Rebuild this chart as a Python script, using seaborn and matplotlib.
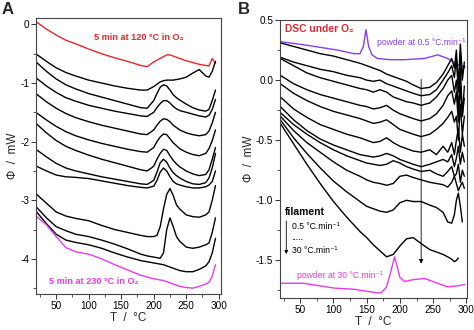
import numpy as np
import matplotlib
matplotlib.use("Agg")
import matplotlib.pyplot as plt
import seaborn as sns
from matplotlib.ticker import MultipleLocator

sns.set_theme(style="ticks")
plt.rcParams['font.family'] = ['Liberation Sans', 'DejaVu Sans']

nan = np.nan
# ---------------- Panel A data ----------------
T_A = [20, 35, 50, 65, 80, 100, 120, 140, 160, 180, 190, 200, 205, 210, 215, 220,
       225, 230, 235, 240, 250, 260, 270, 280, 285, 290, 295]
A_red = [0.04, -0.08, -0.18, -0.27, -0.33, -0.42, -0.50, -0.57, -0.63, -0.70, -0.72, -0.64, -0.61,
         -0.58, -0.55, -0.52, -0.52, -0.54, -0.56, -0.58, -0.62, -0.65, -0.68, -0.70, -0.71, -0.58, -0.66]
A1 = [-0.51, -0.63, -0.74, -0.82, -0.88, -0.95, -1.00, -1.05, -1.09, -1.12, -1.12, -1.06, -1.02,
      -0.98, -0.96, -0.95, -0.95, -0.95, -0.94, -0.93, -0.90, -0.83, -0.77, -0.88, -0.90, -0.80, -0.63]
A2 = [-0.65, -0.80, -0.93, -1.03, -1.10, -1.18, -1.24, -1.30, -1.36, -1.42, -1.43, -1.30, -1.18,
      -1.07, -1.03, -1.05, -1.12, -1.20, -1.25, -1.29, -1.36, -1.42, -1.46, -1.48, -1.45, -1.30, -1.12]
A3 = [-0.92, -1.05, -1.16, -1.25, -1.31, -1.38, -1.43, -1.48, -1.52, -1.56, -1.57, -1.50, -1.42,
      -1.35, -1.30, -1.30, -1.34, -1.40, -1.44, -1.47, -1.50, -1.53, -1.56, -1.58, -1.55, -1.45, -1.28]
A4 = [-1.19, -1.32, -1.43, -1.52, -1.59, -1.66, -1.72, -1.77, -1.82, -1.87, -1.88, -1.80, -1.72,
      -1.65, -1.61, -1.62, -1.66, -1.72, -1.76, -1.80, -1.85, -1.88, -1.90, -1.88, -1.82, -1.68, -1.50]
A5 = [-1.51, -1.63, -1.74, -1.83, -1.90, -1.97, -2.03, -2.08, -2.13, -2.17, -2.18, -2.10, -2.00,
      -1.92, -1.87, -1.88, -1.95, -2.02, -2.07, -2.12, -2.18, -2.22, -2.24, -2.20, -2.12, -1.98, -1.80]
A6 = [-1.70, -1.85, -1.98, -2.08, -2.15, -2.23, -2.30, -2.36, -2.42, -2.48, -2.50, -2.42, -2.30,
      -2.20, -2.13, -2.15, -2.24, -2.32, -2.38, -2.43, -2.50, -2.55, -2.58, -2.56, -2.48, -2.30, -2.10]
A7 = [-2.14, -2.26, -2.37, -2.45, -2.50, -2.55, -2.60, -2.64, -2.68, -2.72, -2.73, -2.66, -2.52,
      -2.36, -2.30, -2.35, -2.45, -2.53, -2.58, -2.62, -2.68, -2.72, -2.73, -2.70, -2.62, -2.45, -2.20]
A8 = [-2.42, -2.50, -2.57, -2.60, -2.61, -2.63, -2.67, -2.71, -2.75, -2.78, -2.79, -2.76, -2.66,
      -2.52, -2.45, -2.50, -2.60, -2.68, -2.72, -2.74, -2.77, -2.79, -2.79, -2.77, -2.74, -2.68, -2.50]
A9 = [-2.90, -3.05, -3.20, -3.27, -3.31, -3.35, -3.43, -3.50, -3.55, -3.60, -3.62, -3.62, -3.60,
      -3.45, -3.15, -2.90, -2.80, -2.92, -3.08, -3.15, -3.25, -3.28, -3.29, -3.25, -3.20, -3.00, -2.75]
A10 = [-3.12, -3.30, -3.45, -3.52, -3.58, -3.62, -3.68, -3.75, -3.83, -3.92, -3.95, -3.97, -3.98,
       -3.99, -3.90, -3.50, -3.30, -3.45, -3.62, -3.70, -3.80, -3.82, -3.80, -3.76, -3.73, -3.55, -3.30]
A11 = [-3.20, -3.40, -3.58, -3.68, -3.72, -3.76, -3.82, -3.90, -3.97, -4.03, -4.05, -4.07, -4.08,
       -4.09, -4.10, -4.12, -4.14, -4.16, -4.18, -4.20, -4.22, -4.22, -4.18, -4.12, -4.05, -3.90, -3.65]
A_mag = [-3.28, -3.42, -3.62, -3.81, -3.88, -3.92, -4.00, -4.10, -4.19, -4.28, -4.31, -4.34, -4.35,
         -4.36, -4.37, -4.39, -4.41, -4.43, -4.45, -4.47, -4.49, -4.50, -4.47, -4.43, -4.40, -4.30, -4.10]
A_black = [A1, A2, A3, A4, A5, A6, A7, A8, A9, A10, A11]

# ---------------- Panel B data ----------------
T_B = [20, 40, 60, 80, 100, 120, 140, 150, 160, 170, 180, 190, 200, 210, 220, 232, 245, 255,
       265, 272, 278, 282, 285, 288, 291, 294, 297]
B1 = [0.31, 0.28, 0.25, 0.22, 0.20, 0.17, 0.14, 0.12, 0.10, 0.08, 0.05, 0.03, 0.01, -0.01, -0.04,
      -0.07, -0.06, -0.02, 0.05, 0.12, 0.18, 0.10, 0.25, -0.05, 0.30, 0.05, 0.12]
B2 = [0.19, 0.15, 0.12, 0.09, 0.07, 0.04, 0.02, 0.00, -0.01, 0.00, -0.03, -0.05, -0.07, -0.09, -0.11,
      -0.13, -0.12, -0.08, 0.00, 0.06, 0.12, 0.02, 0.18, -0.10, 0.22, 0.00, 0.15]
B3 = [0.18, 0.12, 0.06, 0.02, -0.01, -0.04, -0.07, -0.08, -0.10, -0.08, -0.10, -0.14, -0.16, -0.18,
      -0.19, -0.21, -0.19, -0.14, -0.07, 0.00, 0.04, -0.10, 0.00, -0.25, 0.10, -0.30, -0.05]
B4 = [0.04, -0.03, -0.08, -0.12, -0.15, -0.18, -0.21, -0.22, -0.24, -0.23, -0.21, -0.25, -0.28,
      -0.30, -0.32, -0.34, -0.32, -0.28, -0.21, -0.13, -0.09, -0.20, -0.10, -0.35, -0.05, -0.30, -0.15]
B5 = [-0.03, -0.11, -0.17, -0.22, -0.26, -0.29, -0.32, -0.34, -0.36, -0.35, -0.33, -0.37, -0.41,
      -0.43, -0.45, -0.47, -0.45, -0.41, -0.36, -0.31, -0.26, -0.35, -0.30, -0.50, -0.20, -0.45, -0.30]
B6 = [-0.14, -0.24, -0.31, -0.37, -0.41, -0.45, -0.48, -0.50, -0.52, -0.51, -0.48, -0.52, -0.55,
      -0.57, -0.59, -0.60, -0.58, -0.62, -0.55, -0.60, -0.52, -0.62, -0.50, -0.40, -0.60, -0.45, -0.55]
B7 = [-0.22, -0.33, -0.42, -0.49, -0.54, -0.58, -0.62, -0.63, -0.64, -0.63, -0.61, -0.63, -0.66,
      -0.68, -0.70, -0.72, -0.70, -0.68, -0.66, -0.68, -0.62, -0.72, -0.65, -0.55, -0.70, -0.60, -0.68]
B8 = [-0.27, -0.37, -0.45, -0.52, -0.58, -0.63, -0.67, -0.69, -0.70, -0.71, -0.70, -0.67, -0.69,
      -0.72, -0.74, -0.76, -0.75, -0.78, -0.80, -0.76, -0.72, -0.80, -0.78, -0.70, -0.85, -0.75, -0.80]
B9 = [-0.30, -0.42, -0.52, -0.60, -0.68, -0.75, -0.80, -0.83, -0.85, -0.86, -0.875, -0.86, -0.80,
      -0.79, -0.81, -0.83, -0.85, -0.86, -0.87, -0.89, -0.85, -0.80, -0.86, -0.92, -0.88, -0.85, -0.90]
B10 = [-0.33, -0.48, -0.61, -0.73, -0.84, -0.93, -1.01, -1.05, -1.07, -1.09, -1.10, -1.08, -1.02,
       -1.00, -1.01, -1.01, -1.04, -1.06, -1.10, -1.18, -1.19, -1.12, -1.00, -0.94, -1.05, -1.18, nan]
B11 = [-0.36, -0.53, -0.70, -0.86, -1.01, -1.14, -1.26, -1.31, -1.37, -1.42, -1.47, -1.45, -1.38,
       -1.32, -1.31, -1.36, -1.41, -1.43, -1.45, -1.47, -1.49, -1.51, -1.50, -1.48, nan, nan, nan]
B_black = [B1, B2, B3, B4, B5, B6, B7, B8, B9, B10, B11]

T_Bp = [20, 60, 106, 131, 140, 145, 149, 153, 158, 166, 185, 207, 237, 257, 272, 288, 298]
B_purple = [0.32, 0.29, 0.25, 0.22, 0.22, 0.28, 0.42, 0.28, 0.21, 0.18, 0.17, 0.17, 0.18, 0.21,
            0.18, 0.125, 0.11]
T_Bm = [20, 55, 101, 131, 166, 172, 180, 186, 192, 196, 200, 207, 220, 237, 257, 272, 288, 298]
B_mag = [-1.69, -1.69, -1.73, -1.74, -1.77, -1.77, -1.72, -1.60, -1.47, -1.55, -1.64, -1.675,
         -1.66, -1.65, -1.69, -1.72, -1.71, -1.70]

RED = '#e8262c'
MAG = '#e83ae8'
PUR = '#8b3cf0'

fig = plt.figure(figsize=(4.74, 3.30), dpi=100)
W, H = 474, 330
axA = fig.add_axes([36 / W, 1 - 294 / H, (220.7 - 36) / W, (294 - 18) / H])
axB = fig.add_axes([280.3 / W, 1 - 297.7 / H, (467 - 280.3) / W, (297.7 - 20) / H])

lw = 1.0
def line(ax, x, y, c):
    sns.lineplot(x=x, y=y, ax=ax, color=c, linewidth=lw, estimator=None, sort=False)

line(axA, T_A, A_red, RED)
for v in A_black:
    line(axA, T_A, v, 'black')
line(axA, T_A, A_mag, MAG)

line(axB, T_Bp, B_purple, PUR)
for v in B_black:
    line(axB, T_B, v, 'black')
line(axB, T_Bm, B_mag, MAG)

for ax in (axA, axB):
    for s in ax.spines.values():
        s.set_color('#444444')
        s.set_linewidth(0.8)
    ax.tick_params(which='major', direction='out', length=3.5, width=0.7, labelsize=7.2,
                   colors='#333333', pad=1.5)
    ax.tick_params(which='minor', direction='out', length=2, width=0.6, colors='#333333')
    ax.tick_params(labelcolor='black')
    ax.xaxis.set_major_locator(MultipleLocator(50))
    ax.xaxis.set_minor_locator(MultipleLocator(25))
    ax.set_xlabel('T  /  °C', fontsize=8.5, labelpad=1)
    ax.set_ylabel('Φ  /  mW', fontsize=8.5, labelpad=1)

axA.set_xlim(19, 303)
axA.set_ylim(-4.6, 0.11)
axA.yaxis.set_minor_locator(MultipleLocator(0.5))
axA.set_yticks([0, -1, -2, -3, -4])
axA.set_yticklabels(['0', '-1', '-2', '-3', '-4'])

axB.set_xlim(20, 301)
axB.set_ylim(-1.81, 0.5)
axB.set_yticks([0.5, 0.0, -0.5, -1.0, -1.5])
axB.set_yticklabels(['0.5', '0.0', '-0.5', '-1.0', '-1.5'])
axB.yaxis.set_minor_locator(MultipleLocator(0.25))

axA.text(177, -0.23, '5 min at 120 °C in O₂', color=RED, fontsize=6.6, fontweight='bold',
         ha='center', va='center')
axA.text(108, -4.39, '5 min at 230 °C in O₂', color=MAG, fontsize=6.6, fontweight='bold',
         ha='center', va='center')

axB.text(27, 0.425, 'DSC under O₂', color=RED, fontsize=7.4, fontweight='bold',
         ha='left', va='center')
axB.text(166, 0.31, 'powder at 0.5 °C.min⁻¹', color=PUR, fontsize=6.2, ha='left', va='center')
axB.text(27, -1.10, 'filament', color='black', fontsize=7.4, fontweight='bold',
         ha='left', va='center')
axB.text(37, -1.22, '0.5 °C.min⁻¹', color='black', fontsize=6.2, ha='left', va='center')
axB.text(37, -1.31, '.....', color='black', fontsize=6.2, ha='left', va='center')
axB.text(37, -1.42, '30 °C.min⁻¹', color='black', fontsize=6.2, ha='left', va='center')
axB.text(45, -1.625, 'powder at 30 °C.min⁻¹', color=MAG, fontsize=6.2, ha='left', va='center')
axB.annotate('', xy=(29, -1.47), xytext=(29, -1.15),
             arrowprops=dict(arrowstyle='-|>', color='black', lw=0.6, mutation_scale=5))
axB.annotate('', xy=(232, -1.55), xytext=(232, 0.03),
             arrowprops=dict(arrowstyle='-|>', color='black', lw=0.6, mutation_scale=6))

fig.text(2 / W, 1 - 10 / H, 'A', fontsize=12, fontweight='bold', ha='left', va='center')
fig.text(238 / W, 1 - 10 / H, 'B', fontsize=12, fontweight='bold', ha='left', va='center')

fig.savefig('out.png', dpi=100)
